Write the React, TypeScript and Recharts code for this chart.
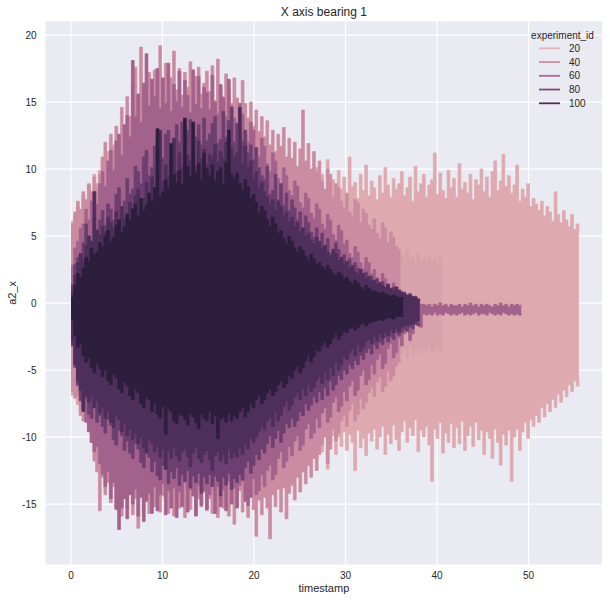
import { ComposedChart, Area, XAxis, YAxis, CartesianGrid } from 'recharts'

// sampling step of the traces (seconds)
const STEP = 0.3

const X_TICKS = [0, 10, 20, 30, 40, 50]
const Y_TICKS = [-15, -10, -5, 0, 5, 10, 15, 20]

const LEGEND_IDS = [20, 40, 60, 80, 100]
const LEGEND_COLORS = ['#e3b7b8', '#cd8da1', '#ab6890', '#7f497b', '#4e2f5b']

// one colour per experiment trace, lightest drawn first
const SERIES_COLORS = ['#deaab0', '#d9a1ab', '#cb8ba0', '#a3628c', '#6c3f70', '#4e2f5b', '#2d1e3e']

// envelope of each trace (upper / lower) per time step
const exp1Hi = [
  6.1, 5.6, 7.0, 6.3, 7.9, 6.6, 7.2, 8.4, 6.9, 7.5,
  8.9, 7.6, 8.2, 9.6, 7.9, 8.7, 10.2, 8.3, 9.1, 8.0,
  9.7, 8.6, 10.5, 8.9, 9.3, 11.0, 8.7, 9.9, 9.2, 10.6,
  9.0, 10.8, 9.5, 8.8, 10.3, 9.6, 11.2, 9.1, 10.0, 9.4,
  10.7, 9.3, 9.8, 11.1, 8.9, 10.2, 9.5, 10.9, 9.7, 9.2,
  10.4, 9.0, 11.3, 9.6, 10.1, 8.8, 10.6, 9.9, 9.3, 11.0,
  9.5, 10.2, 8.9, 10.8, 9.4, 9.7, 11.1, 9.0, 10.3, 9.6,
  8.8, 10.5, 9.2, 9.9, 10.7, 8.9, 9.4, 10.2, 9.0, 9.8,
  10.4, 8.7, 9.5, 9.1, 10.6, 8.8, 9.7, 9.3, 8.6, 10.1,
  8.9, 9.6, 8.3, 10.7, 8.8, 9.2, 7.9, 9.9, 8.5, 9.4,
  8.1, 10.9, 8.7, 9.0, 7.8, 9.6, 8.4, 10.3, 8.0, 9.1,
  8.6, 7.7, 9.5, 8.2, 10.1, 8.8, 7.9, 9.3, 8.5, 8.9,
  9.8, 8.0, 8.6, 9.4, 7.6, 10.2, 8.3, 8.9, 9.6, 7.9,
  8.8, 9.2, 11.2, 8.1, 9.7, 8.4, 7.8, 9.9, 8.6, 9.3,
  7.9, 10.4, 8.5, 9.0, 8.2, 9.6, 7.7, 9.2, 8.8, 10.0,
  8.3, 9.4, 7.9, 9.8, 10.6, 8.4, 9.1, 11.1, 8.7, 9.5,
  8.2, 8.8, 10.3, 7.6, 8.5, 7.9, 8.9, 7.2, 7.8, 7.4,
  6.9, 7.6, 6.5, 7.2, 6.8, 6.1, 8.3, 6.6, 6.0, 6.9,
  6.2, 5.7, 6.6, 5.5, 5.9, 5.3,
]
const exp1Lo = [
  -6.9, -6.5, -7.6, -7.1, -8.4, -7.3, -8.0, -8.9, -7.7, -8.5,
  -9.3, -8.4, -9.8, -8.9, -10.1, -9.2, -8.8, -10.4, -9.5, -9.9,
  -10.6, -9.4, -10.0, -11.2, -9.7, -10.5, -9.9, -11.0, -10.3, -9.8,
  -10.9, -10.2, -11.4, -9.9, -10.7, -11.1, -10.4, -11.6, -10.1, -10.8,
  -11.3, -10.5, -10.9, -11.8, -10.2, -11.0, -11.5, -10.6, -11.9, -10.8,
  -10.4, -11.7, -11.0, -10.6, -12.0, -10.9, -11.4, -10.7, -11.8, -11.2,
  -11.5, -10.8, -12.1, -11.0, -11.3, -10.6, -11.9, -11.2, -10.9, -11.7,
  -11.1, -12.0, -10.8, -11.5, -11.2, -10.7, -11.8, -11.0, -12.2, -10.9,
  -11.4, -10.6, -11.9, -10.9, -11.2, -12.3, -10.5, -11.3, -10.8, -11.6,
  -10.2, -11.1, -9.8, -12.4, -10.5, -9.9, -11.3, -10.0, -10.7, -9.6,
  -11.0, -9.8, -10.4, -12.5, -9.5, -10.8, -10.1, -11.4, -9.7, -10.3,
  -9.4, -10.9, -10.0, -9.2, -11.3, -9.8, -10.5, -9.1, -10.2, -11.0,
  -9.6, -8.8, -10.4, -9.3, -9.9, -8.7, -11.1, -9.5, -10.0, -9.2,
  -10.6, -13.3, -9.4, -10.1, -8.9, -11.2, -9.7, -10.4, -9.0, -10.8,
  -9.3, -10.5, -8.8, -11.0, -9.9, -9.2, -10.7, -8.9, -10.2, -9.5,
  -11.3, -9.6, -10.1, -11.6, -9.4, -10.4, -12.1, -9.8, -10.6, -9.5,
  -13.3, -10.0, -9.4, -11.0, -9.6, -8.9, -10.1, -8.7, -9.2, -8.4,
  -8.9, -7.8, -8.5, -7.5, -8.1, -7.2, -7.8, -6.8, -7.4, -6.5,
  -7.0, -6.1, -6.6, -5.8, -6.2, -5.6,
]

const exp2Hi = [
  5.6, 6.5, 7.2, 6.8, 8.1, 7.5, 8.8, 8.2, 9.6, 8.9,
  9.9, 10.7, 9.4, 11.3, 10.2, 11.8, 10.6, 12.1, 11.0, 12.5,
  11.6, 12.9, 11.2, 12.4, 13.2, 11.7, 12.8, 12.1, 13.0, 11.9,
  12.7, 13.3, 11.9, 12.6, 13.6, 12.2, 12.9, 11.8, 13.1, 12.5,
  13.4, 12.0, 12.8, 13.2, 11.9, 12.7, 13.5, 12.3, 12.6, 13.0,
  12.1, 12.9, 11.8, 12.5, 12.2, 11.6, 12.7, 11.9, 11.4, 12.2,
  11.3, 11.9, 10.9, 11.5, 10.4, 11.2, 10.1, 10.8, 9.7, 10.4,
  10.0, 10.6, 9.5, 10.2, 9.1, 9.8, 8.8, 9.4, 8.5, 9.1,
  8.7, 9.2, 8.1, 8.8, 7.9, 8.4, 7.6, 8.2, 7.4, 7.9,
  7.8, 6.1, 7.2, 6.6, 8.0, 5.7, 6.9, 6.2, 7.4, 5.5,
  6.4, 5.1, 6.8, 5.6, 5.9, 4.8, 6.2, 5.0, 5.4, 4.5,
  5.7, 4.1, 4.8, 4.6, 4.3, 3.8, 5.0, 3.5, 4.1, 3.3,
  3.6, 3.0, 3.9, 3.2, 3.4, 2.9, 3.7, 3.1, 3.3, 3.0,
  3.5, 3.1, 3.3, 2.9, 3.4, 3.2,
]
const exp2Lo = [
  -6.2, -6.8, -7.5, -8.1, -7.8, -8.7, -8.4, -9.2, -8.9, -9.6,
  -9.3, -10.0, -9.7, -10.4, -10.1, -10.8, -10.5, -11.1, -10.8, -11.4,
  -11.0, -11.7, -11.3, -12.0, -11.6, -12.2, -11.8, -12.4, -12.0, -11.7,
  -12.3, -11.9, -12.6, -12.1, -12.4, -12.8, -12.2, -12.5, -12.9, -12.3,
  -12.6, -13.0, -12.4, -12.8, -12.2, -12.7, -13.1, -12.5, -12.9, -12.3,
  -12.7, -12.1, -12.5, -12.9, -12.3, -12.6, -12.0, -12.4, -11.8, -12.2,
  -11.9, -11.5, -12.0, -11.3, -11.7, -11.0, -11.4, -10.7, -11.1, -10.4,
  -10.8, -10.1, -10.5, -9.8, -10.2, -9.5, -9.9, -9.2, -9.6, -8.9,
  -9.3, -8.6, -9.0, -8.3, -8.7, -8.0, -8.4, -7.7, -8.1, -7.4,
  -7.2, -6.1, -6.8, -5.7, -7.4, -6.9, -5.9, -6.6, -5.4, -6.3,
  -5.6, -5.0, -6.3, -4.8, -5.3, -5.9, -4.6, -5.2, -4.4, -5.1,
  -4.3, -4.9, -3.9, -4.5, -4.1, -3.7, -4.6, -3.6, -4.0, -3.5,
  -3.8, -3.4, -4.1, -3.2, -3.9, -3.5, -3.3, -3.8, -3.4, -3.6,
  -3.3, -3.7, -3.5, -3.2, -3.6, -3.4,
]

const exp3Hi = [
  5.9, 6.8, 7.6, 7.0, 8.3, 7.7, 8.9, 8.2, 9.4, 8.5,
  9.6, 10.9, 12.0, 10.4, 12.6, 11.3, 13.2, 12.0, 14.6, 13.1,
  15.4, 13.9, 16.3, 17.6, 15.2, 19.1, 16.0, 15.5, 17.2, 16.1,
  17.4, 15.6, 19.2, 16.3, 17.9, 15.4, 16.8, 18.8, 15.9, 17.5,
  15.5, 17.2, 16.1, 18.0, 15.3, 16.9, 17.6, 15.6, 16.4, 17.3,
  15.8, 17.7, 15.1, 18.2, 16.2, 15.4, 17.1, 16.0, 14.9, 16.8,
  15.3, 14.2, 16.6, 14.9, 13.8, 15.0, 13.2, 14.4, 12.8, 13.9,
  12.4, 13.6, 11.8, 12.9, 11.3, 12.6, 11.7, 13.1, 10.9, 12.3,
  10.8, 12.0, 10.2, 11.5, 14.4, 10.6, 11.9, 10.0, 11.3, 9.8,
  10.6, 9.1, 8.5, 10.0, 9.6, 7.9, 8.9, 8.6, 7.6, 7.1,
  8.2, 6.8, 6.4, 7.7, 7.5, 6.0, 7.0, 6.7, 5.8, 5.5,
  6.3, 5.2, 4.8, 6.0, 5.6, 4.5, 5.3, 4.9, 4.2, 4.0,
  4.0,
]
const exp3Lo = [
  -6.6, -7.1, -6.9, -8.4, -8.8, -8.2, -9.6, -10.4, -11.8, -12.6,
  -15.5, -13.0, -14.3, -13.4, -14.9, -13.7, -15.3, -14.1, -15.9, -14.4,
  -15.3, -13.9, -15.8, -14.6, -16.8, -14.2, -15.5, -13.8, -15.7, -14.5,
  -15.2, -13.9, -15.6, -14.4, -14.8, -15.7, -14.0, -15.9, -14.5, -15.3,
  -14.2, -16.0, -14.8, -15.4, -13.9, -15.8, -14.6, -15.2, -14.1, -15.5,
  -14.6, -15.7, -14.3, -16.0, -14.8, -15.3, -14.2, -15.9, -14.5, -16.5,
  -15.1, -14.0, -15.6, -14.6, -16.0, -14.4, -15.4, -17.4, -14.7, -15.8,
  -14.5, -15.3, -17.6, -14.3, -15.2, -13.9, -15.6, -13.8, -16.1, -14.2,
  -13.6, -14.7, -13.0, -14.1, -12.6, -13.5, -12.1, -13.0, -11.6, -12.5,
  -11.3, -10.6, -10.0, -12.0, -10.9, -9.4, -10.3, -9.7, -8.8, -8.4,
  -9.2, -8.0, -7.5, -8.8, -8.3, -7.1, -7.9, -7.4, -6.7, -6.3,
  -7.0, -5.9, -5.5, -6.6, -6.2, -5.1, -5.8, -5.4, -4.7, -4.4,
  -4.3,
]

const exp4Hi = [
  2.8, 4.1, 4.6, 5.6, 5.9, 7.0, 6.2, 7.6, 8.3, 7.4,
  8.9, 9.8, 8.7, 10.6, 11.4, 9.9, 12.1, 12.6, 11.0, 13.3,
  14.0, 12.4, 18.1, 13.9, 15.6, 13.5, 16.4, 18.6, 14.7, 16.7,
  15.4, 17.5, 14.5, 16.8, 14.9, 17.9, 14.3, 16.3, 15.0, 17.3,
  14.6, 16.6, 15.5, 14.2, 17.4, 14.8, 16.9, 14.5, 16.1, 15.7,
  14.4, 17.0, 15.0, 14.1, 16.3, 15.3, 13.9, 16.7, 14.7, 13.8,
  13.3, 14.9, 14.1, 12.6, 12.0, 13.5, 12.9, 11.5, 10.9, 12.3,
  11.7, 10.4, 9.8, 11.2, 10.6, 9.3, 8.8, 10.1, 9.5, 8.4,
  8.0, 9.1, 8.7, 7.5, 7.1, 8.2, 7.8, 6.7, 6.3, 7.4,
  7.0, 5.9, 5.5, 6.6, 6.2, 5.1, 4.7, 5.8, 5.4, 4.4,
  4.7, 3.7, 3.4, 4.2, 3.8, 3.0, 2.6, 3.4, 3.0, 2.2,
  2.5, 1.9, 1.6, 2.2, 1.8, 1.3, 1.0, 1.5, 1.2, 0.7,
  0.9, 0.5, 0.3, 0.6, 0.4, 0.1, 0.0, -0.1, -0.1, -0.2,
  -0.1, -0.3, -0.1, -0.2, 0.0, -0.2, -0.1, -0.3, -0.1, -0.2,
  -0.2, -0.1, -0.3, -0.1, -0.2, 0.0, -0.2, -0.1, -0.3, -0.1,
  -0.2, -0.1, -0.2, -0.3, -0.1, -0.2, 0.0, -0.2, -0.1, -0.3,
  -0.1, -0.2, -0.1, -0.2, -0.1,
]
const exp4Lo = [
  -3.1, -4.6, -6.2, -7.0, -7.8, -8.9, -9.6, -10.4, -11.1, -10.7,
  -12.0, -12.8, -13.7, -12.6, -14.6, -13.4, -15.4, -16.9, -15.3, -14.6,
  -16.1, -14.3, -15.0, -13.9, -15.9, -14.5, -16.3, -14.8, -14.2, -15.7,
  -13.7, -15.5, -14.3, -13.5, -15.8, -14.0, -15.3, -13.8, -16.0, -14.1,
  -15.2, -13.4, -15.6, -13.9, -14.4, -15.9, -13.6, -15.1, -14.0, -15.4,
  -14.3, -13.5, -15.7, -13.7, -15.2, -13.9, -15.5, -13.3, -15.0, -13.8,
  -15.3, -13.6, -13.3, -14.8, -15.1, -14.5, -13.1, -14.3, -14.0, -12.8,
  -13.7, -12.5, -12.1, -13.2, -12.8, -11.6, -11.1, -12.3, -11.8, -10.7,
  -11.4, -10.3, -9.9, -11.0, -10.6, -9.4, -9.0, -10.1, -9.7, -8.6,
  -9.3, -8.2, -7.8, -8.9, -8.5, -7.4, -7.0, -8.1, -7.7, -6.6,
  -7.3, -6.2, -5.8, -6.9, -6.5, -5.4, -5.0, -6.1, -5.7, -4.6,
  -5.3, -4.2, -3.8, -4.9, -4.5, -3.4, -3.0, -4.1, -3.7, -2.6,
  -3.2, -2.3, -1.9, -2.8, -2.3, -1.6, -1.3, -1.8, -0.8, -0.9,
  -0.8, -0.9, -0.7, -0.9, -0.8, -0.9, -0.7, -0.8, -0.9, -0.8,
  -0.9, -0.8, -0.7, -0.9, -0.8, -0.9, -0.8, -0.7, -0.9, -0.8,
  -0.8, -0.9, -0.7, -0.8, -0.9, -0.8, -0.9, -0.7, -0.8, -0.9,
  -0.8, -0.9, -0.8, -0.9, -0.8,
]

const exp5Hi = [
  1.4, 2.9, 3.4, 3.1, 4.5, 5.9, 5.0, 4.6, 6.4, 5.5,
  6.2, 6.9, 5.8, 7.4, 7.0, 6.2, 8.1, 8.6, 7.1, 7.6,
  9.3, 8.1, 8.5, 10.2, 9.8, 8.9, 10.9, 11.4, 9.5, 10.1,
  11.7, 12.1, 10.4, 10.8, 12.6, 12.9, 11.0, 11.4, 13.3, 12.0,
  13.5, 11.5, 12.9, 13.7, 11.6, 12.4, 13.3, 11.8, 13.8, 12.1,
  12.6, 13.4, 13.9, 11.9, 12.2, 14.3, 12.4, 13.6, 14.6, 12.0,
  13.4, 12.7, 12.1, 12.9, 11.2, 11.8, 10.7, 11.6, 10.1, 9.5,
  9.2, 10.2, 8.1, 8.4, 9.6, 7.7, 8.9, 7.3, 8.2, 6.9,
  7.7, 7.1, 6.2, 6.8, 5.6, 6.5, 6.0, 5.3, 4.9, 5.6,
  4.6, 5.2, 4.1, 4.8, 3.7, 3.4, 4.5, 4.0, 3.1, 3.6,
  2.7, 3.3, 2.4, 3.0, 2.6, 2.1, 1.9, 2.3, 1.6, 2.0,
  1.4, 1.8, 1.2, 1.6, 1.1, 1.4, 0.9, 1.2, 0.8, 1.0,
  0.7, 0.8, 0.5, 0.7, 0.4, 0.5, 0.3, 0.2,
]
const exp5Lo = [
  -3.2, -4.8, -6.1, -7.3, -7.9, -7.1, -8.3, -8.6, -7.8, -8.9,
  -8.4, -9.2, -9.7, -8.7, -9.1, -10.2, -10.6, -9.5, -9.9, -11.0,
  -10.3, -11.2, -11.6, -10.5, -10.9, -11.9, -12.3, -11.2, -11.5, -12.6,
  -11.8, -12.9, -13.2, -12.1, -12.4, -13.5, -12.6, -13.1, -12.3, -13.6,
  -12.8, -13.3, -12.5, -13.8, -12.9, -13.4, -12.7, -14.2, -13.0, -13.5,
  -12.8, -13.7, -12.9, -13.3, -14.4, -13.0, -13.6, -12.7, -13.9, -13.1,
  -13.4, -12.8, -13.2, -12.3, -11.8, -12.7, -12.1, -11.3, -11.7, -10.9,
  -11.2, -10.5, -9.9, -10.8, -10.1, -9.5, -10.4, -9.7, -9.0, -9.3,
  -8.6, -9.2, -8.8, -8.1, -8.4, -7.5, -8.0, -7.6, -7.0, -7.4,
  -6.6, -7.2, -6.3, -6.9, -5.8, -6.5, -6.1, -5.4, -5.7, -5.0,
  -5.3, -4.6, -4.9, -4.3, -4.6, -3.9, -4.2, -3.7, -3.4, -3.8,
  -3.1, -3.4, -2.9, -3.1, -2.6, -2.9, -2.5, -2.7, -2.2, -2.4,
  -2.2, -2.0, -2.1, -1.8, -1.9, -1.6, -1.7, -1.5,
]

const exp6Hi = [
  0.9, 2.1, 3.0, 3.7, 3.2, 4.3, 5.0, 4.6, 8.3, 5.4,
  5.1, 5.7, 5.3, 6.4, 6.0, 5.6, 6.8, 5.9, 7.2, 6.3,
  6.7, 7.5, 7.1, 8.0, 8.5, 7.4, 7.8, 9.0, 8.2, 9.4,
  8.6, 9.8, 12.9, 9.1, 10.3, 9.5, 10.7, 12.3, 9.8, 11.2,
  10.1, 10.4, 11.0, 10.6, 11.4, 10.2, 12.1, 10.8, 11.5, 10.3,
  11.1, 10.9, 11.8, 10.5, 11.3, 10.8, 12.0, 10.6, 11.6, 10.9,
  11.2, 14.6, 10.4, 11.7, 10.1, 10.6, 9.3, 9.8, 8.6, 9.0,
  8.3, 7.9, 7.3, 7.7, 6.9, 7.6, 7.2, 6.5, 6.8, 6.1,
  6.4, 5.7, 6.0, 5.3, 5.6, 5.0, 5.2, 4.7, 4.4, 4.9,
  4.6, 4.1, 4.3, 3.8, 3.5, 4.0, 3.7, 3.2, 3.4, 2.9,
  3.1, 2.6, 2.8, 2.3, 2.1, 2.5, 2.2, 1.8, 2.0, 1.6,
  1.7, 1.4, 1.5, 1.3, 1.2, 1.4, 1.1, 1.0, 1.2, 0.9,
  0.8, 0.7, 0.6, 0.6, 0.5, 0.4, 0.3, 0.1,
]
const exp6Lo = [
  -2.9, -4.6, -5.8, -6.5, -8.1, -6.9, -7.4, -7.0, -7.8, -7.3,
  -8.2, -7.8, -8.6, -8.1, -8.9, -9.3, -8.4, -8.7, -9.6, -9.0,
  -9.9, -9.4, -10.2, -9.7, -10.5, -10.0, -10.8, -11.2, -10.2, -10.5,
  -11.1, -10.7, -11.5, -10.9, -12.4, -11.0, -11.6, -10.8, -11.4, -11.8,
  -11.1, -10.9, -11.5, -12.2, -11.2, -10.8, -11.6, -11.9, -11.3, -11.0,
  -11.7, -12.5, -11.4, -11.1, -11.8, -11.3, -12.0, -10.9, -11.6, -11.2,
  -11.5, -10.8, -11.3, -10.5, -10.9, -10.1, -10.4, -10.0, -9.6, -9.2,
  -9.5, -8.8, -8.5, -9.2, -8.1, -8.8, -8.4, -7.7, -7.3, -8.0,
  -7.6, -7.0, -6.7, -7.2, -6.4, -6.9, -6.1, -6.6, -6.3, -5.8,
  -5.5, -6.0, -5.2, -5.7, -4.8, -5.4, -4.4, -5.0, -4.6, -4.0,
  -4.2, -3.7, -3.4, -3.9, -3.1, -3.6, -3.3, -2.9, -2.7, -3.0,
  -2.5, -2.8, -2.3, -2.6, -2.2, -2.4, -2.0, -2.2, -1.9, -2.1,
  -1.8, -1.7, -1.7, -1.6, -1.5, -1.4, -1.3, -1.2,
]

const exp7Hi = [
  0.4, 1.3, 2.2, 1.9, 2.6, 3.4, 3.1, 4.1, 3.6, 3.8,
  4.5, 4.2, 5.0, 5.4, 4.6, 4.9, 5.8, 6.2, 5.3, 5.7,
  6.6, 6.1, 7.0, 7.4, 6.5, 7.8, 6.9, 7.3, 8.2, 7.6,
  8.6, 13.0, 7.9, 8.3, 9.2, 8.6, 11.9, 9.6, 9.0, 9.9,
  8.8, 13.8, 10.2, 9.4, 13.5, 9.7, 10.4, 9.2, 11.2, 10.0,
  9.5, 10.3, 9.1, 9.8, 10.1, 8.9, 10.5, 12.9, 9.6, 9.3,
  9.7, 8.9, 8.4, 9.2, 8.7, 7.8, 8.1, 7.5, 6.7, 7.2,
  6.9, 6.2, 5.7, 6.4, 5.9, 5.2, 5.4, 4.8, 4.4, 5.0,
  4.6, 4.1, 3.8, 4.2, 3.9, 3.5, 3.2, 3.6, 3.3, 2.9,
  3.0, 2.7, 2.5, 2.8, 2.5, 2.2, 2.0, 2.3, 2.1, 1.8,
  1.9, 1.6, 1.4, 1.7, 1.5, 1.2, 1.0, 1.3, 1.1, 0.9,
  0.9, 0.8, 0.7, 0.8, 0.7, 0.6, 0.5, 0.6, 0.5, 0.4,
  0.4, 0.3,
]
const exp7Lo = [
  -1.2, -2.4, -3.3, -3.0, -3.9, -4.4, -4.1, -4.8, -5.2, -4.5,
  -4.9, -5.5, -5.0, -5.8, -6.1, -5.3, -5.6, -6.4, -6.7, -5.9,
  -6.2, -6.9, -7.2, -6.4, -6.7, -7.5, -7.8, -7.0, -7.2, -8.1,
  -7.5, -8.3, -8.6, -7.7, -9.8, -7.9, -8.1, -8.8, -9.0, -8.3,
  -8.4, -8.7, -9.1, -8.2, -8.5, -8.9, -9.4, -8.3, -8.6, -8.8,
  -8.1, -9.0, -8.4, -10.1, -8.7, -8.5, -8.9, -8.2, -8.8, -8.4,
  -8.6, -8.1, -7.8, -8.5, -8.1, -7.5, -7.8, -7.2, -6.9, -7.5,
  -7.2, -6.7, -6.4, -6.9, -6.6, -6.1, -5.8, -6.3, -6.0, -5.4,
  -5.6, -5.0, -4.7, -5.2, -4.8, -4.3, -3.9, -4.4, -4.0, -3.5,
  -3.6, -3.2, -2.9, -3.3, -3.0, -2.6, -2.3, -2.7, -2.4, -2.1,
  -2.2, -1.9, -1.8, -2.0, -1.8, -1.6, -1.5, -1.7, -1.5, -1.4,
  -1.4, -1.3, -1.2, -1.3, -1.2, -1.1, -1.1, -1.2, -1.0, -1.0,
  -1.0, -0.9,
]

const HIGHS = [exp1Hi, exp2Hi, exp3Hi, exp4Hi, exp5Hi, exp6Hi, exp7Hi]
const LOWS = [exp1Lo, exp2Lo, exp3Lo, exp4Lo, exp5Lo, exp6Lo, exp7Lo]

const rowCount = Math.max(...HIGHS.map((h) => h.length))
const chartData = Array.from({ length: rowCount }, (_, i) => {
  const row: Record<string, number | number[]> = { t: Math.round(i * STEP * 10) / 10 }
  HIGHS.forEach((hi, k) => {
    if (i < hi.length) row[`e${k}`] = [LOWS[k][i], hi[i]]
  })
  return row
})

const FONT = '"Liberation Sans", Arial, sans-serif'
const TEXT = '#262626'

export default function App() {
  return (
    <div
      style={{
        position: 'absolute',
        left: 0,
        top: 0,
        width: 610,
        height: 602,
        background: '#fff',
        fontFamily: FONT,
      }}
    >
      <ComposedChart
        width={610}
        height={602}
        data={chartData}
        margin={{ top: 20.7, right: 7.3, bottom: 0, left: 0 }}
      >
        <CartesianGrid fill="#eaeaf2" stroke="#ffffff" strokeWidth={1.2} />
        <XAxis
          type="number"
          dataKey="t"
          domain={[-2.84, 58.1]}
          ticks={X_TICKS}
          allowDataOverflow
          axisLine={false}
          tickLine={false}
          tickSize={0}
          tickMargin={7}
          height={37}
          tick={{ fill: TEXT, fontSize: 10, fontFamily: FONT }}
        />
        <YAxis
          type="number"
          domain={[-19.55, 21.07]}
          ticks={Y_TICKS}
          allowDataOverflow
          axisLine={false}
          tickLine={false}
          tickSize={0}
          tickMargin={8.5}
          width={45}
          tick={{ fill: TEXT, fontSize: 10, fontFamily: FONT }}
        />
        {SERIES_COLORS.map((c, k) => (
          <Area
            key={k}
            dataKey={`e${k}`}
            type="stepAfter"
            fill={c}
            fillOpacity={1}
            stroke={c}
            strokeWidth={0.8}
            dot={false}
            activeDot={false}
            isAnimationActive={false}
          />
        ))}
      </ComposedChart>

      <svg
        width={610}
        height={602}
        style={{ position: 'absolute', left: 0, top: 0, pointerEvents: 'none' }}
        fontFamily={FONT}
      >
        <text x={323.9} y={16} textAnchor="middle" fontSize={12} fill={TEXT}>
          X axis bearing 1
        </text>
        <text x={323.9} y={592} textAnchor="middle" fontSize={11} fill={TEXT}>
          timestamp
        </text>
        <text
          x={0}
          y={0}
          transform="translate(15.5 292.9) rotate(-90)"
          textAnchor="middle"
          fontSize={11}
          fill={TEXT}
        >
          a2_x
        </text>
        <text x={562.5} y={38.5} textAnchor="middle" fontSize={10} fill={TEXT}>
          experiment_id
        </text>
        {LEGEND_IDS.map((id, i) => (
          <g key={id}>
            <line
              x1={539}
              x2={560}
              y1={48.3 + i * 13.75}
              y2={48.3 + i * 13.75}
              stroke={LEGEND_COLORS[i]}
              strokeWidth={1.8}
            />
            <text x={569} y={48.3 + i * 13.75} dy="0.35em" fontSize={10} fill={TEXT}>
              {id}
            </text>
          </g>
        ))}
      </svg>
    </div>
  )
}
